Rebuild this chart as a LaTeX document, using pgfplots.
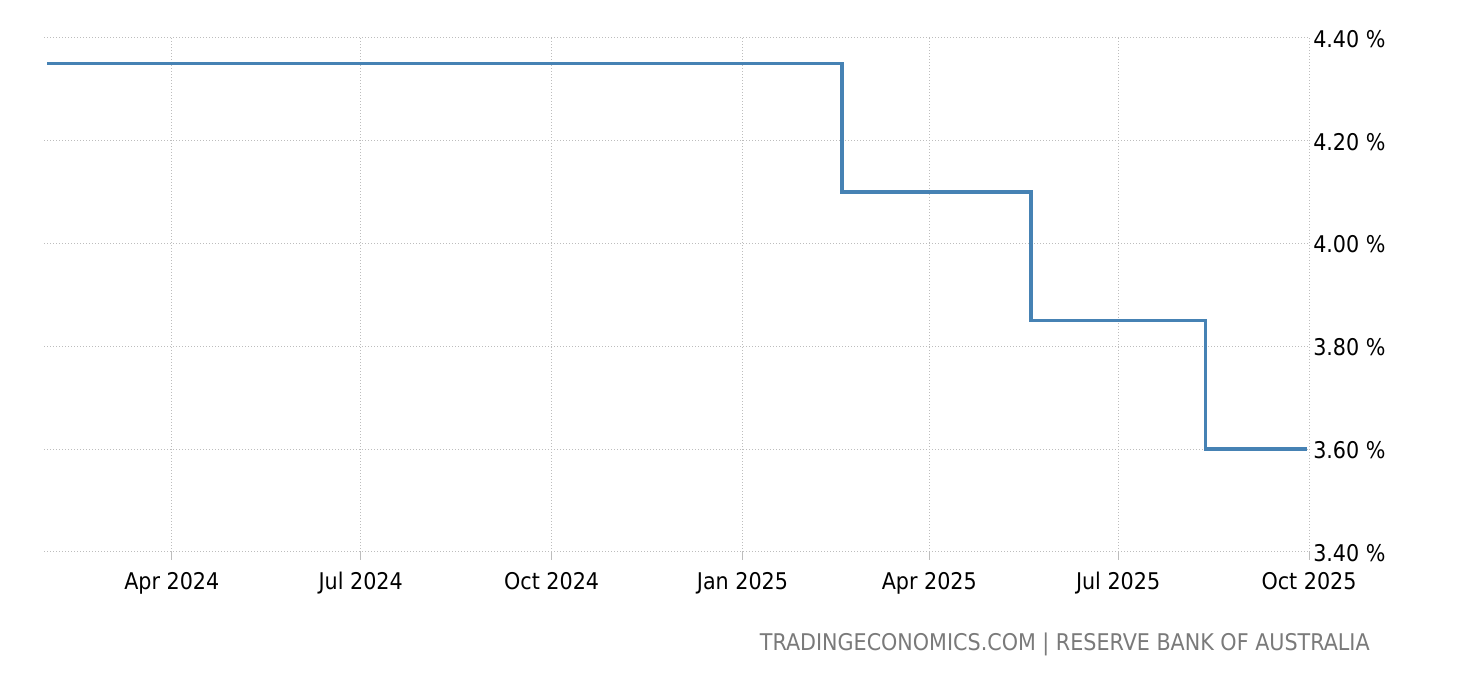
\documentclass[border=0pt]{standalone}
\usepackage{fontspec}
\setmainfont{DejaVu Sans Condensed}
\usepackage{pgfplots}
\pgfplotsset{compat=1.18}
\definecolor{lineblue}{HTML}{4682B4}
\definecolor{gridgray}{HTML}{BDBDBD}
\definecolor{srcgray}{HTML}{7A7A7A}
\begin{document}
\fontsize{23bp}{27bp}\selectfont
\begin{tikzpicture}
\path[use as bounding box, fill=white] (0,0) rectangle (1460bp,680bp);
\begin{axis}[
 at={(44bp,128bp)}, anchor=south west,
 scale only axis, width=1265bp, height=514bp,
 xmin=29.4, xmax=639, ymin=3.4, ymax=4.4,
 axis line style={draw=none},
 xtick={91,182,274,366,456,547,639},
 xticklabels={Apr 2024, Jul 2024, Oct 2024, Jan 2025, Apr 2025, Jul 2025, Oct 2025},
 ytick={3.4,3.6,3.8,4.0,4.2,4.4},
 yticklabels={3.40 \%, 3.60 \%, 3.80 \%, 4.00 \%, 4.20 \%, 4.40 \%},
 yticklabel pos=right,
 xtick pos=left,
 grid=major,
 major grid style={gridgray, line width=1bp, dash pattern=on 1bp off 2bp},
 xtick style={gridgray, line width=1bp},
 major tick length=8bp, xtick align=outside,
 ytick style={draw=none},
 tick label style={font=\fontsize{23bp}{27bp}\selectfont, text=black},
 xticklabel style={anchor=north, inner sep=0pt, yshift=-12bp},
 yticklabel style={anchor=west, inner sep=0pt, xshift=4bp, yshift=-1bp},
 clip=false
]
\addplot[const plot, lineblue, line width=3.5bp] coordinates {(31,4.35) (414,4.10) (505,3.85) (589,3.60) (638,3.60)};
\end{axis}
\node[anchor=base east, text=srcgray, inner sep=0pt] at (1370bp,30bp) {TRADINGECONOMICS.COM | RESERVE BANK OF AUSTRALIA};
\end{tikzpicture}
\end{document}
